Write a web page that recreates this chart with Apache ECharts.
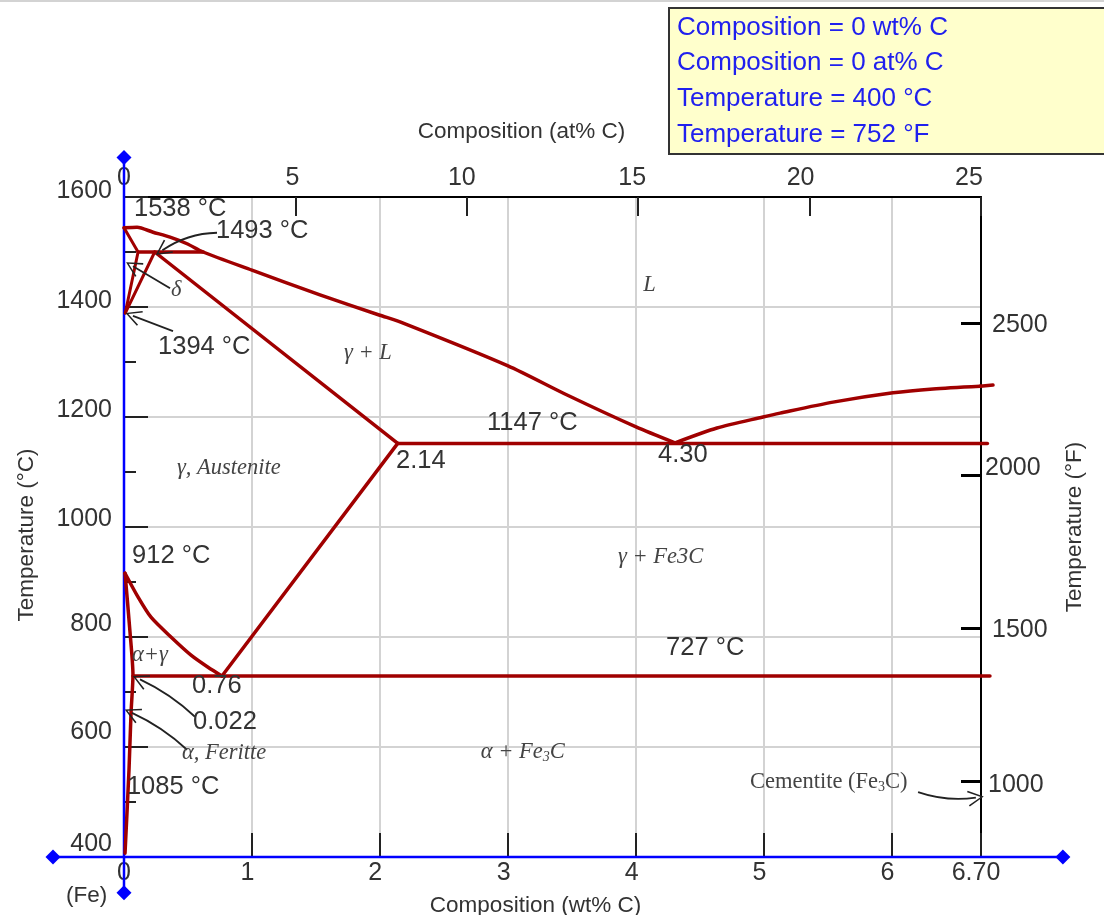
<!DOCTYPE html>
<html>
<head>
<meta charset="utf-8">
<title>Fe-C phase diagram</title>
<script src="https://cdn.jsdelivr.net/npm/echarts@6/dist/echarts.min.js"></script>
<style>
html, body { margin: 0; padding: 0; background: #fff; }
#chart { width: 1104px; height: 915px; }
</style>
</head>
<body>
<div id="chart"></div>
<script>
// axis values
var wtTicks = [0, 1, 2, 3, 4, 5, 6, 6.7];
var atTicks = [0, 5, 10, 15, 20, 25];
var tempCTicks = [400, 600, 800, 1000, 1200, 1400, 1600];
var tempFTicks = [1000, 1500, 2000, 2500];

// phase boundaries, [wt% C, temperature C]
var liquidusLeft = [[0, 1544], [0.102, 1545], [0.227, 1536], [0.36, 1527], [0.493, 1515], [0.618, 1500], [1.0, 1467], [1.532, 1422], [2.0, 1385], [2.158, 1373], [3.002, 1293], [3.464, 1240], [4.003, 1182], [4.308, 1153]];
var liquidusRight = [[4.308, 1153], [4.636, 1180], [4.996, 1200], [5.129, 1207], [5.543, 1227], [6.012, 1244], [6.325, 1251], [6.693, 1256]];
var liquidusTail = [[6.693, 1256], [6.794, 1258]];
var peritectic = [[0.11, 1500], [0.62, 1500]];
var deltaLeft = [[0, 1544], [0.11, 1500], [0.01, 1389]];
var deltaRight = [[0.24, 1500], [0.01, 1389]];
var solidus = [[0.24, 1500], [2.14, 1152]];
var a3 = [[0.008, 916], [0.109, 873], [0.211, 836], [0.367, 800], [0.524, 767], [0.657, 745], [0.766, 729]];
var acm = [[0.766, 729], [2.14, 1152]];
var eutectic = [[2.14, 1152], [6.75, 1152]];
var eutectoid = [[0.07, 729], [6.77, 729]];
var alpha = [[0.008, 916], [0.047, 809], [0.07, 731], [0.055, 662], [0.039, 558], [0.008, 407]];

// cursor cross
var cursorH = [[-0.555, 400], [7.34, 400]];
var cursorV = [[0, 1672], [0, 335]];

// readout
var readout = ['Composition = 0 wt% C', 'Composition = 0 at% C', 'Temperature = 400 °C', 'Temperature = 752 °F'];

// annotations: [wt, temp, text]
var plainNotes = [
  [0.078, 1582, '1538 °C'], [0.719, 1542, '1493 °C'], [0.266, 1331, '1394 °C'],
  [0.063, 951, '912 °C'], [0.023, 531, '1085 °C'], [2.838, 1193, '1147 °C'],
  [2.127, 1124, '2.14'], [4.175, 1135, '4.30'], [4.238, 784, '727 °C'],
  [0.532, 715, '0.76'], [0.54, 649, '0.022']
];
var feNote = [[-0.453, 329, '(Fe)']];
var phaseNotes = [
  [4.06, 1440, 'L'], [1.72, 1316, 'γ + L'], [0.414, 1107, 'γ, Austenite'],
  [3.862, 945, 'γ + Fe3C'], [0.063, 767, 'α+γ'], [0.453, 589, 'α, Feritte'],
  [2.79, 591, '{i|α + Fe}{s|3}{i|C}'], [0.367, 1431, 'δ']
];
var cementiteNote = [[4.894, 536, '{t|Cementite (Fe}{s|3}{t|C)}']];

// arrows: [from, to, curveness]
var arrows = [
  [[0.727, 1535], [0.3, 1503], -0.15],
  [[0.36, 1434], [0.07, 1474], 0],
  [[0.383, 1356], [0.07, 1384], 0],
  [[0.555, 655], [0.125, 723], -0.08],
  [[0.493, 595], [0.0625, 662], -0.08],
  [[6.208, 518], [6.66, 508], -0.12]
];

var SANS = '"Liberation Sans", Arial, sans-serif';
var SERIF = '"Liberation Serif", "Times New Roman", serif';
var INK = '#333';
var RED = '#a00000';
var BLUE = '#0000ff';

// per label nudges, the reference places its tick labels by hand
function shiftRich(values, dx, dy) {
  var rich = {};
  values.forEach(function (v, i) {
    var right = dx[i] < 0 ? -dx[i] : 0, left = dx[i] > 0 ? dx[i] : 0;
    var bottom = dy[i] < 0 ? -dy[i] : 0, top = dy[i] > 0 ? dy[i] : 0;
    rich['t' + i] = { padding: [top, right, bottom, left], fontSize: 25, color: INK, fontFamily: SANS };
  });
  return rich;
}
function shiftFormatter(values, text) {
  return function (v) {
    var i = values.indexOf(v);
    return '{t' + i + '|' + (text ? text(v) : v) + '}';
  };
}

function curve(pts, width) {
  return { coords: pts, lineStyle: { width: width || 3.5 } };
}
// curved boundaries, the line series clips at the frame so overhangs stay in the lines series
function smoothLine(name, data) {
  return {
    name: name, type: 'line', data: data, smooth: 0.25,
    symbol: 'none', silent: true, z: 5,
    lineStyle: { color: RED, width: 3.5, cap: 'round', join: 'round' }
  };
}
function notes(data, label) {
  return {
    type: 'scatter', data: data, clip: false, silent: true, symbolSize: 0, z: 6,
    itemStyle: { opacity: 1 },
    label: Object.assign({ show: true, position: 'right', distance: 0, offset: [0, 2], opacity: 1,
      formatter: function (p) { return p.value[2]; } }, label)
  };
}

var option = {
  animation: false,
  backgroundColor: '#fff',
  textStyle: { fontFamily: SANS },
  grid: { left: 124, right: 123, top: 197, bottom: 58, containLabel: false, outerBoundsMode: 'none' },
  xAxis: [
    {
      type: 'value', min: 0, max: 6.7, position: 'bottom',
      name: 'Composition (wt% C)', nameLocation: 'middle', nameGap: 37,
      nameTextStyle: { fontSize: 22.5, color: INK, padding: [0, 34, 0, 0] },
      axisLine: { show: true, onZero: false, lineStyle: { color: '#000', width: 2 } },
      axisTick: { show: true, inside: true, length: 24, customValues: wtTicks, lineStyle: { color: '#222', width: 2 } },
      axisLabel: {
        margin: 4, customValues: wtTicks, showMinLabel: true, showMaxLabel: true, hideOverlap: false,
        formatter: shiftFormatter(wtTicks, function (v) { return v === 6.7 ? '6.70' : v; }),
        rich: shiftRich(wtTicks, [0, -9, -9, -8, -8, -8, -8, -10], [0, 0, 0, 0, 0, 0, 0, 0])
      },
      splitLine: { show: true, showMinLine: false, showMaxLine: false, lineStyle: { color: '#d3d3d3', width: 2 } }
    },
    {
      type: 'value', min: 0, max: 25, position: 'top',
      name: 'Composition (at% C)', nameLocation: 'middle', nameGap: 54,
      nameTextStyle: { fontSize: 22.5, color: INK, padding: [0, 62, 0, 0] },
      axisLine: { show: true, onZero: false, lineStyle: { color: '#000', width: 2 } },
      axisTick: { show: true, inside: true, length: 19, customValues: atTicks, lineStyle: { color: '#222', width: 2 } },
      axisLabel: {
        margin: 6, customValues: atTicks, showMinLabel: true, showMaxLabel: true, hideOverlap: false,
        formatter: shiftFormatter(atTicks),
        rich: shiftRich(atTicks, [0, -6, -10, -12, -18, -24], [0, 0, 0, 0, 0, 0])
      },
      splitLine: { show: false }
    }
  ],
  yAxis: [
    {
      type: 'value', min: 400, max: 1600, position: 'left',
      name: 'Temperature (°C)', nameLocation: 'middle', nameGap: 86,
      nameTextStyle: { fontSize: 22.5, color: INK, padding: [0, 16, 0, 0] },
      axisLine: { show: true, onZero: false, lineStyle: { color: '#000', width: 2 } },
      axisTick: { show: true, inside: true, length: 24, customValues: tempCTicks, lineStyle: { color: '#222', width: 2 } },
      minorTick: { show: true, splitNumber: 2, length: 12, lineStyle: { color: '#222', width: 2 } },
      axisLabel: {
        margin: 12, customValues: tempCTicks, showMinLabel: true, showMaxLabel: true, hideOverlap: false,
        formatter: shiftFormatter(tempCTicks),
        rich: shiftRich(tempCTicks, [0, 0, 0, 0, 0, 0, 0], [-26, -29, -25, -16, -13, -12, -12])
      },
      splitLine: { show: true, showMinLine: false, showMaxLine: false, lineStyle: { color: '#d3d3d3', width: 2 } }
    },
    {
      type: 'value', min: 752, max: 2912, position: 'right',
      name: 'Temperature (°F)', nameLocation: 'middle', nameGap: 82,
      nameTextStyle: { fontSize: 22.5, color: INK },
      axisLine: { show: true, onZero: false, lineStyle: { color: '#000', width: 2 } },
      axisTick: { show: true, inside: true, length: 20, customValues: tempFTicks, lineStyle: { color: '#000', width: 3 } },
      axisLabel: {
        margin: 4, customValues: tempFTicks, showMinLabel: true, showMaxLabel: true, hideOverlap: false,
        formatter: shiftFormatter(tempFTicks),
        rich: shiftRich(tempFTicks, [3, 7, 0, 7], [7, 4, -15, 4])
      },
      splitLine: { show: false }
    }
  ],
  series: [
    {
      name: 'cursor', type: 'lines', coordinateSystem: 'cartesian2d', polyline: true, clip: false, silent: true, z: 4,
      lineStyle: { color: BLUE, width: 2.5, opacity: 1 },
      data: [{ coords: cursorH }, { coords: cursorV }]
    },
    {
      name: 'cursor ends', type: 'scatter', clip: false, silent: true, z: 4,
      symbol: 'diamond', symbolSize: 15, itemStyle: { color: BLUE, opacity: 1 },
      data: cursorH.concat(cursorV)
    },
    smoothLine('liquidus', liquidusLeft),
    smoothLine('liquidus', liquidusRight),
    smoothLine('A3', a3),
    smoothLine('alpha', alpha),
    {
      name: 'boundaries', type: 'lines', coordinateSystem: 'cartesian2d', polyline: true, clip: false, silent: true, z: 5,
      lineStyle: { color: RED, width: 3.5, opacity: 1, cap: 'round', join: 'round' },
      data: [
        curve(liquidusTail), curve(peritectic), curve(deltaLeft, 3), curve(deltaRight, 3),
        curve(solidus), curve(acm), curve(eutectic), curve(eutectoid)
      ]
    },
    {
      name: 'arrows', type: 'lines', coordinateSystem: 'cartesian2d', clip: false, silent: true, z: 6,
      symbol: ['none', 'path://M0 0L11 20L9 21L0 4L-9 21L-11 20Z'], symbolSize: 16,
      lineStyle: { color: '#222', width: 1.8, opacity: 1 },
      data: arrows.map(function (a) {
        return { coords: [a[0], a[1]], lineStyle: { curveness: a[2] } };
      })
    },
    notes(plainNotes, { fontSize: 25.5, color: INK, fontFamily: SANS }),
    notes(feNote, { fontSize: 22.5, color: INK, fontFamily: SANS, offset: [0, 0] }),
    notes(phaseNotes, {
      fontSize: 22.5, color: '#444', fontFamily: SERIF, fontStyle: 'italic', offset: [0, 0],
      rich: {
        i: { fontSize: 22.5, color: '#444', fontFamily: SERIF, fontStyle: 'italic' },
        s: { fontSize: 14, color: '#444', fontFamily: SERIF, fontStyle: 'italic', verticalAlign: 'bottom', padding: [10, 0, 0, 0] }
      }
    }),
    notes(cementiteNote, {
      offset: [0, 0],
      rich: {
        t: { fontSize: 22.5, color: '#444', fontFamily: SERIF },
        s: { fontSize: 14, color: '#444', fontFamily: SERIF, verticalAlign: 'bottom', padding: [10, 0, 0, 0] }
      }
    })
  ],
  graphic: [
    { type: 'rect', left: 0, top: 0, shape: { width: 1104, height: 2 }, style: { fill: '#d3d3d3' }, silent: true },
    { type: 'rect', left: 668, top: 7, shape: { width: 440, height: 146 }, style: { fill: '#ffffcc', stroke: '#333', lineWidth: 2 }, silent: true, z: 10 }
  ].concat(readout.map(function (line, i) {
    return {
      type: 'text', left: 677, top: [15, 50, 86, 122][i], silent: true, z: 11,
      style: { text: line, fill: '#2020ee', font: '26px ' + SANS }
    };
  }))
};

var myChart = echarts.init(document.getElementById('chart'));
myChart.setOption(option);
</script>
</body>
</html>
